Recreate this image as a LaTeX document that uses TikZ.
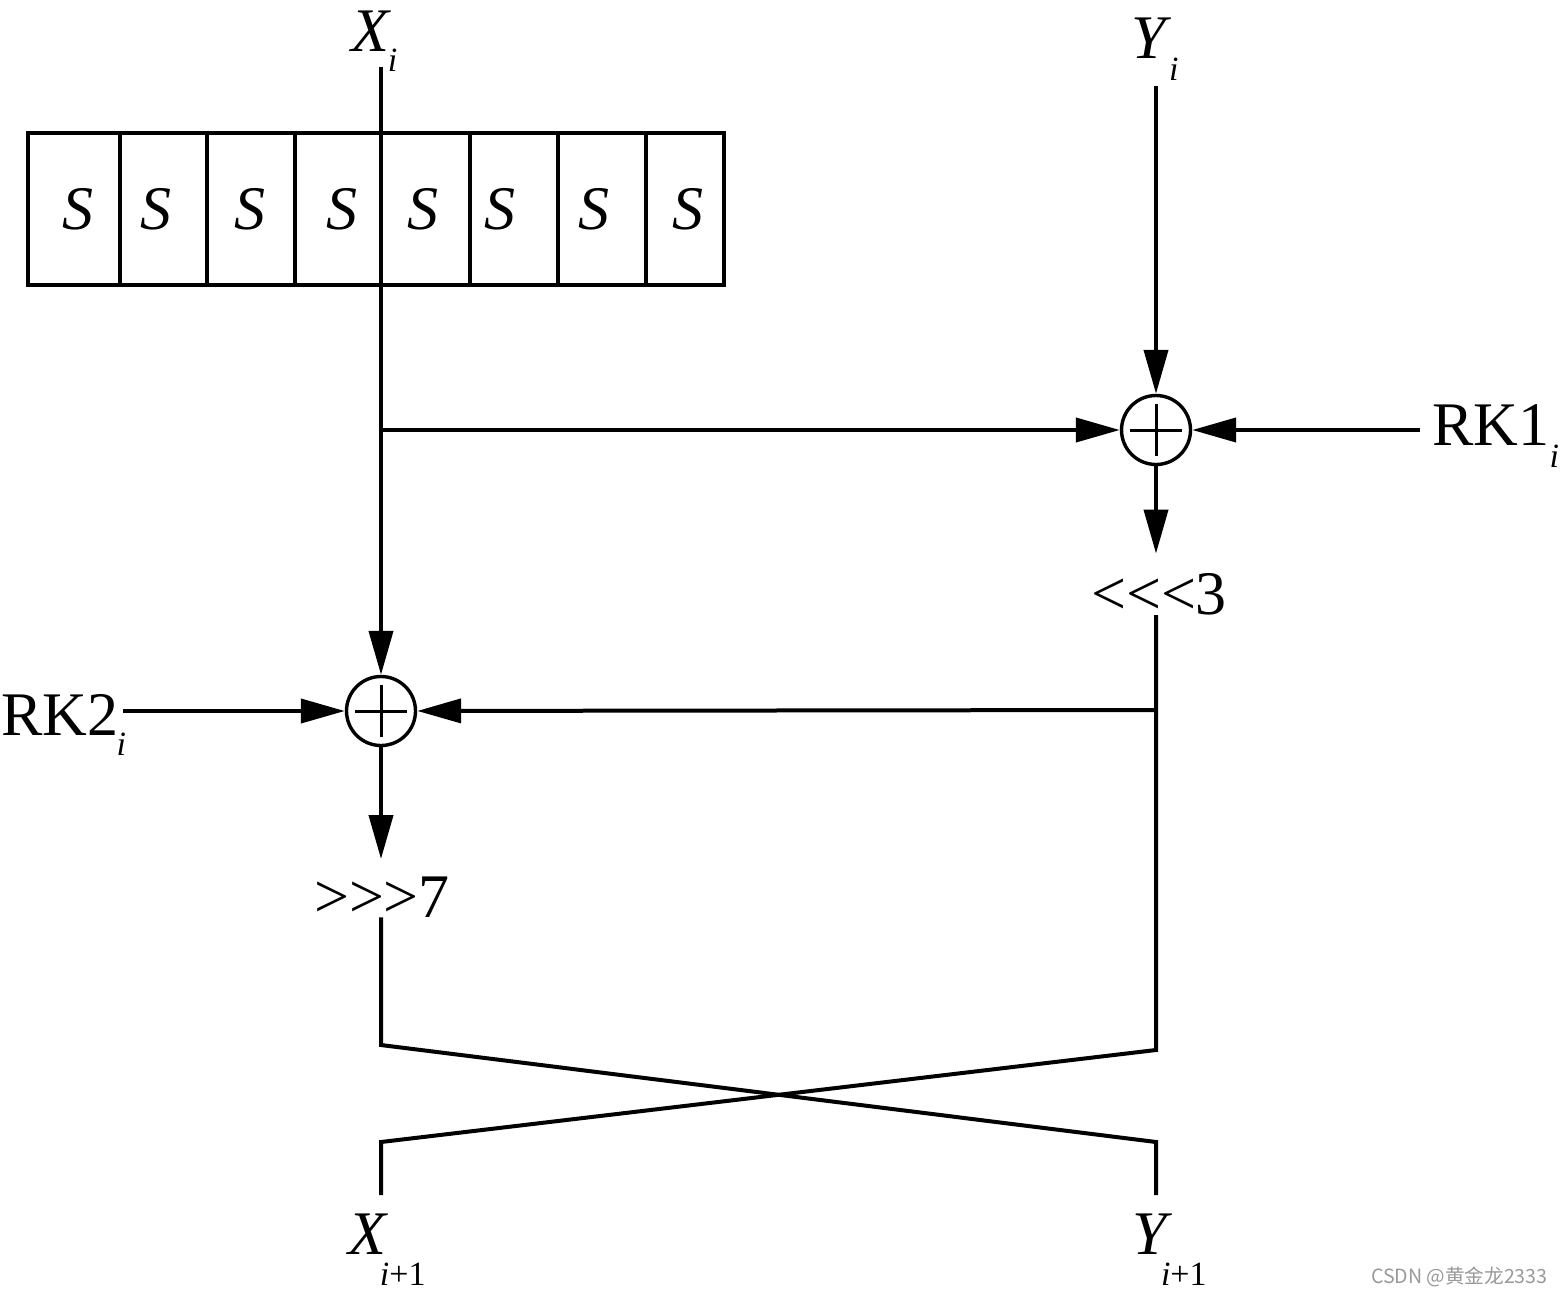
\documentclass[tikz,border=0pt]{standalone}
\usepackage{fontspec}
\setmainfont{Liberation Serif}
\newfontfamily\cjkfont{Noto Sans CJK SC}
\usepackage{tikz}
\usetikzlibrary{positioning,arrows.meta}
\newcommand{\subsz}{\fontsize{17}{17}\selectfont}
\newcommand{\lsub}[3]{\rlap{\kern#1\raisebox{-#2}{\subsz #3}}}
\tikzset{
lbl/.style={inner sep=0pt,font=\fontsize{31}{36}\selectfont},
wire/.style={line width=2pt},
arr/.style={wire,-{Triangle[length=22pt,width=12pt]}},
xorc/.style={circle,draw,line width=1.7pt,minimum size=34.5pt,inner sep=0pt,
  path picture={\draw[line width=1.5pt] (path picture bounding box.center) ++(0,-26) -- ++(0,52)
    (path picture bounding box.center) ++(-26,0) -- ++(52,0);}}
}

\begin{document}
\begin{tikzpicture}[x=0.5pt,y=0.5pt,yscale=-1,xscale=1]
\useasboundingbox (0,0) rectangle (1561,1295);
%Shape: S-box row
\draw[wire] (28,133) rectangle (724,285);
\foreach \dx in {119.5,206.5,294.5,381,469.5,557.5,645.5}
  \draw[wire] (\dx,133) -- (\dx,285);
\foreach \sx [count=\k] in {78,156,250,342,423,500,594,688}
  \node[lbl] (s\k) at (\sx,209) {\textit{S}};

% Text Node
\node[lbl,anchor=base] (xi) at (371,52) {\textit{X}\lsub{-1.5pt}{10pt}{\textit{i}}};
% Text Node
\node[lbl,anchor=base] (yi) at (1151,59) {\textit{Y}\lsub{-1pt}{11pt}{\textit{i}}};
% Text Node
\node[lbl,anchor=base west,inner xsep=6pt] (rk1) at (1420,445) {RK1\lsub{0pt}{11pt}{\textit{i}}};
% Text Node
\node[lbl,anchor=base west,inner xsep=2pt] (rk2) at (-3,735) {RK2\lsub{-1pt}{10pt}{\textit{i}}};
% Text Node
\node[lbl,anchor=base] (rot3) at (1159,614) {<\kern0pt<\kern0pt<3};
% Text Node
\node[lbl,anchor=base] (rot7) at (382,917) {>\kern0pt>\kern0pt>7};
% Text Node
\node[lbl,anchor=base] (xo) at (368,1254) {\textit{X}\lsub{-4pt}{15.5pt}{\textit{i}+1}};
% Text Node
\node[lbl,anchor=base] (yo) at (1152,1254) {\textit{Y}\lsub{-5.5pt}{15.5pt}{\textit{i}+1}};
% Text Node
\node[anchor=base east,inner sep=0pt,font=\cjkfont\fontsize{9.8}{12}\selectfont,text=black!40] (wm) at (1548,1283) {CSDN @黄金龙2333};

%XOR circles
\node[xorc] (xr) at (1156,430) {};
\node[xorc] (xl) at (381,711) {};

%Free ends and corners
\coordinate (xtop) at (381,67);
\coordinate (ytop) at (1156,86);
\coordinate (xbr) at (381,430);
\coordinate (ybr) at (1156,710);
\coordinate (xc1) at (381,1045);
\coordinate (yc1) at (1156,1050);
\coordinate (xc2) at (381,1142);
\coordinate (yc2) at (1156,1142);
\coordinate (xend) at (381,1195);
\coordinate (yend) at (1156,1195);

%Straight Lines
\draw[arr] (xtop) -- (xl);
\draw[arr] (xbr) -- (xr);
\draw[arr] (ytop) -- (xr);
\draw[arr] (rk1.west |- xr) -- (xr);
\draw[arr,shorten >=9.5pt] (xr) -- (rot3.north -| xr);
\draw[arr] (ybr) -- (xl);
\draw[arr] (rk2.east |- xl) -- (xl);
\draw[arr,shorten >=8.5pt] (xl) -- (rot7.north -| xl);
%Crossing
\draw[wire] (rot7.south -| xl) -- (xc1) -- (yc2) -- (yend);
\draw[wire] (rot3.south -| xr) -- (yc1) -- (xc2) -- (xend);
\end{tikzpicture}
\end{document}
